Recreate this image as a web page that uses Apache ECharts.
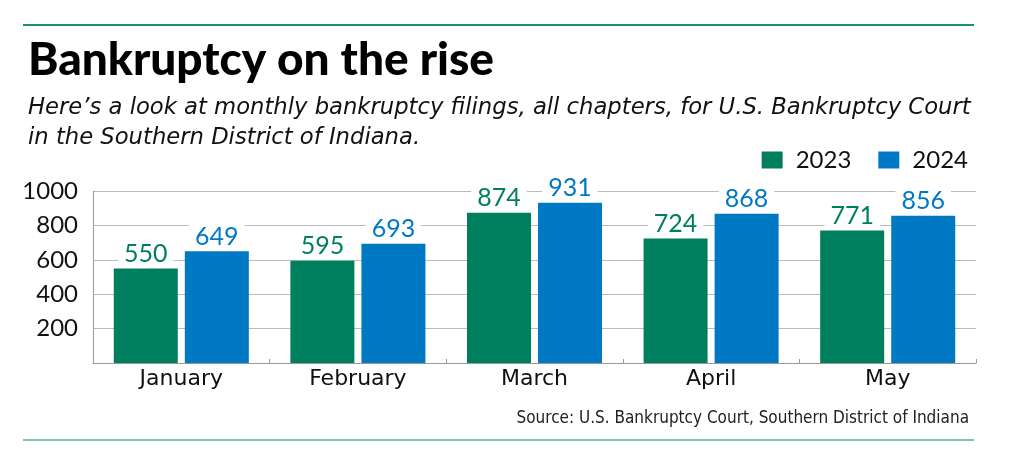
<!DOCTYPE html>
<html>
<head>
<meta charset="utf-8">
<script src="https://cdn.jsdelivr.net/npm/echarts@6/dist/echarts.min.js"></script>
<style>
  html, body { margin: 0; padding: 0; background: #fff; }
  #chart { width: 1024px; height: 468px; }
</style>
</head>
<body>
<div id="chart"></div>
<script>
// 月份与两年的申请数
var months = ['January', 'February', 'March', 'April', 'May'];
var filings2023 = [550, 595, 874, 724, 771];
var filings2024 = [649, 693, 931, 868, 856];
var yTicks = [0, 200, 400, 600, 800, 1000];

var green = '#007f5e';
var blue = '#0079c5';
var font = 'Lato, "Open Sans", sans-serif';
var wide = '"DejaVu Sans", sans-serif';

var oChart = echarts.init(document.getElementById('chart'));

var chartopt = {
    animation: false,
    title: [{
        text: 'Bankruptcy on the rise',
        left: 23,
        top: 32,
        textStyle: { fontFamily: font, fontWeight: 900, fontSize: 46, color: '#000' }
    }, {
        text: 'Here\u2019s a look at monthly bankruptcy filings, all chapters, for U.S. Bankruptcy Court\nin the Southern District of Indiana.',
        left: 23,
        top: 88,
        textStyle: { fontFamily: wide, fontStyle: 'italic', fontWeight: 400, fontSize: 22.7, lineHeight: 30, color: '#111' }
    }, {
        text: 'Source: U.S. Bankruptcy Court, Southern District of Indiana',
        right: 50,
        top: 405,
        textStyle: { fontFamily: '"Liberation Sans Narrow", "DejaVu Sans Condensed", sans-serif', fontWeight: 400, fontSize: 17, color: '#222' }
    }],
    legend: {
        data: ['2023', '2024'],
        right: 51,
        top: 143,
        itemWidth: 21,
        itemHeight: 17,
        itemGap: 27,
        icon: 'rect',
        textStyle: { fontFamily: font, fontSize: 24, color: '#111', padding: [0, 0, 0, 8] }
    },
    grid: { left: 93, right: 48, top: 191, bottom: 105 },
    xAxis: [{
        type: 'category',
        data: months,
        axisLine: { show: true, lineStyle: { color: '#999', width: 1 } },
        axisTick: { show: true, inside: true, length: 4, lineStyle: { color: '#999' } },
        axisLabel: { fontFamily: wide, fontSize: 22, color: '#111', margin: 5 }
    }],
    yAxis: [{
        type: 'value',
        min: 0,
        max: 1000,
        interval: 200,
        axisLine: { show: true, lineStyle: { color: '#999' } },
        axisTick: { show: false },
        splitLine: { lineStyle: { color: '#bbb', width: 1 } },
        axisLabel: {
            fontFamily: font, fontSize: 24, color: '#111', margin: 15,
            formatter: function (v) { return yTicks.indexOf(v) > 0 ? String(v) : ''; }
        }
    }],
    series: [{
        name: '2023',
        type: 'bar',
        data: filings2023,
        barWidth: 64,
        barGap: '11%',
        itemStyle: { color: green },
        label: {
            show: true, position: 'top', distance: 2,
            fontFamily: font, fontSize: 25, color: green,
            backgroundColor: '#fff', padding: [0, 6]
        }
    }, {
        name: '2024',
        type: 'bar',
        data: filings2024,
        barWidth: 64,
        itemStyle: { color: blue },
        label: {
            show: true, position: 'top', distance: 2,
            fontFamily: font, fontSize: 25, color: blue,
            backgroundColor: '#fff', padding: [0, 6]
        }
    }],
    graphic: [{
        type: 'line',
        shape: { x1: 23, y1: 25, x2: 974, y2: 25 },
        style: { stroke: '#1b9073', lineWidth: 2 }
    }, {
        type: 'line',
        shape: { x1: 23, y1: 440, x2: 974, y2: 440 },
        style: { stroke: '#7cc4b3', lineWidth: 2 }
    }]
};

oChart.setOption(chartopt);
</script>
</body>
</html>
